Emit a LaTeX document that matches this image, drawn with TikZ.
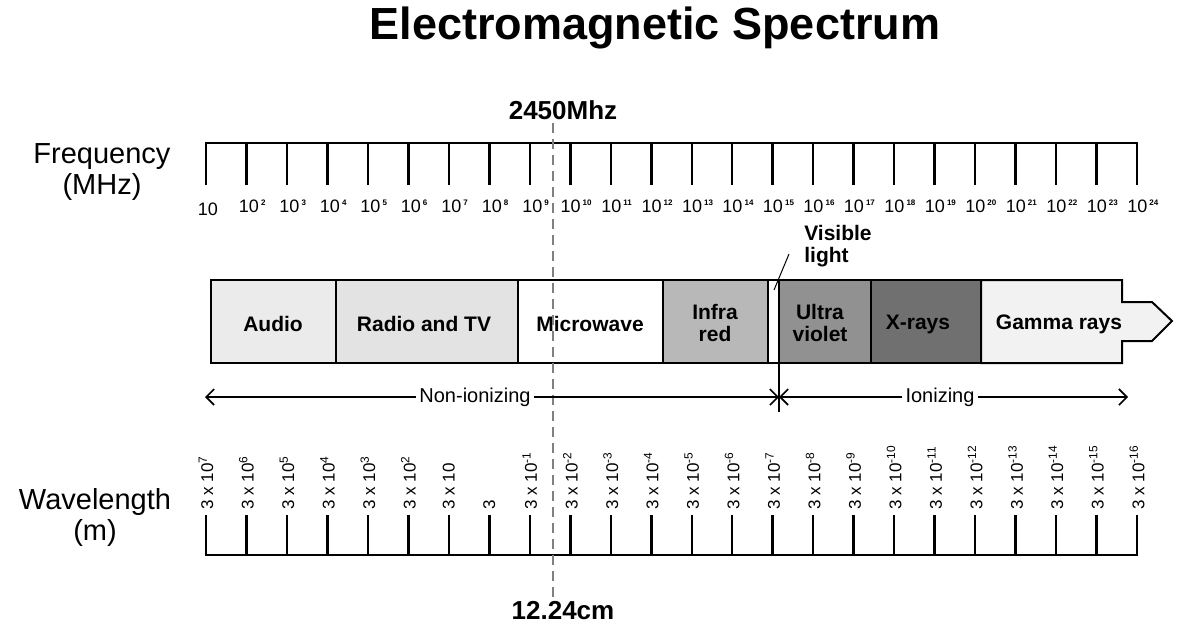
\documentclass[tikz,border=0pt]{standalone}
\usepackage{fontspec}
\setmainfont{Liberation Sans}
\usetikzlibrary{arrows.meta}
\begin{document}
\begin{tikzpicture}[x=1pt,y=-1pt,
  blabel/.style={font=\bfseries\fontsize{21}{22}\selectfont,align=center},
  tick/.style={line width=2.5pt},
  flab/.style={font=\fontsize{18}{20}\selectfont,inner sep=0pt},
  wlab/.style={font=\fontsize{17}{19}\selectfont,inner sep=0pt,rotate=90,anchor=west},
  side/.style={font=\fontsize{29}{31}\selectfont,align=center},
  arr/.style={line width=1.6pt,-{Straight Barb[length=8pt,width=16pt]}}]
\useasboundingbox (0,0) rectangle (1200,630);
\node[font=\bfseries\fontsize{45}{47}\selectfont] (title) at (655,28) {Electromagnetic Spectrum};
\node[side] (freq) at (102,172) {Frequency\\(MHz)};
\node[side] (wave) at (95,517) {Wavelength\\(m)};
% frequency scale
\draw[tick] (206,185) -- (206,143) -- (1137,143) -- (1137,185);
\foreach \i in {1,...,22} \draw[tick] ({206+\i*40.48},143) -- ({206+\i*40.48},185);
\node[flab] (f1) at (208,209) {10};
\foreach \i [evaluate=\i as \e using int(\i+1)] in {1,...,23}
  \node[flab] (f\e) at ({212+\i*40.48},206) {10\textsuperscript{\,\bfseries\footnotesize\e}};
% wavelength scale
\draw[tick] (206,515) -- (206,555) -- (1137,555) -- (1137,515);
\foreach \i in {1,...,22} \draw[tick] ({206+\i*40.48},515) -- ({206+\i*40.48},555);
\foreach \i [evaluate=\i as \e using int(7-\i)] in {0,...,5,8,9,...,23}
  \node[wlab] (w\i) at ({206+\i*40.48},510) {3 x 10\textsuperscript{\e}};
\node[wlab] (w6) at ({206+6*40.48},510) {3 x 10};
\node[wlab] (w7) at ({206+7*40.48},510) {3};
% bands
\begin{scope}[line width=2pt]
\filldraw[fill=black!8] (211,280) rectangle (336,363);
\filldraw[fill=black!11] (336,280) rectangle (518,363);
\filldraw[fill=white] (518,280) rectangle (663,363);
\filldraw[fill=black!28] (663,280) rectangle (768,363);
\filldraw[fill=white] (768,280) rectangle (779,363);
\filldraw[fill=black!43] (779,280) rectangle (871,363);
\filldraw[fill=black!56] (871,280) rectangle (981,363);
\filldraw[fill=black!5] (981,280) -- (1122,280) -- (1122,302) -- (1152,302) -- (1172,321) -- (1152,341) -- (1122,341) -- (1122,363) -- (981,363) -- cycle;
\end{scope}
\node[blabel] (audio) at (273,324) {Audio};
\node[blabel] (radio) at (424,324) {Radio and TV};
\node[blabel] (micro) at (590,324) {Microwave};
\node[blabel] (ir) at (715,323) {Infra\\red};
\node[blabel] (uv) at (820,323) {Ultra\\violet};
\node[blabel] (xr) at (918,324) {X-rays};
\node[blabel] (gam) at (1059,324) {Gamma rays};
\node[blabel,align=left] (vis) at (838,246) {Visible\\light};
\coordinate (vp) at (774,290);
\draw[line width=1pt] (vp) -- (789,254);
% dashed marker
\draw[gray,line width=1.2pt,dash pattern=on 10pt off 6pt] (553,123) -- (553,600);
\node[font=\bfseries\fontsize{26}{28}\selectfont] (ghz) at (563,110) {2450Mhz};
\node[font=\bfseries\fontsize{26}{28}\selectfont] (cm) at (563,611) {12.24cm};
% ionizing arrows
\coordinate (mid) at (779,397);
\coordinate (left) at (205,397);
\coordinate (right) at (1128,397);
\draw[line width=1.6pt] (779,363) -- (779,412);
\node[font=\fontsize{20}{22}\selectfont,fill=white,inner sep=3pt] (non) at (475,397) {Non-ionizing};
\node[font=\fontsize{20}{22}\selectfont,fill=white,inner sep=3pt] (ion) at (940,397) {Ionizing};
\draw[arr] (non) -- (left);
\draw[arr] (non) -- (mid);
\draw[arr] (ion) -- (mid);
\draw[arr] (ion) -- (right);
\end{tikzpicture}
\end{document}
